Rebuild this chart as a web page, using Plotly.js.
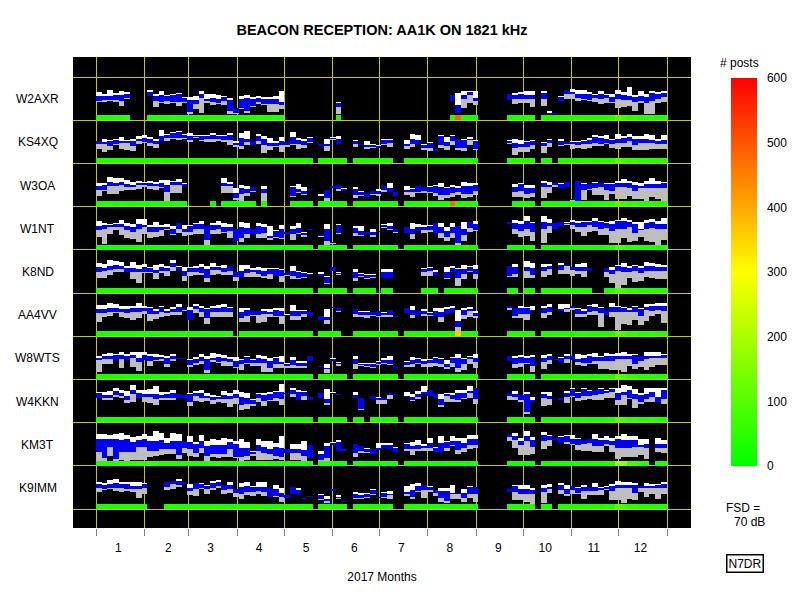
<!DOCTYPE html>
<html><head><meta charset="utf-8">
<script src="https://cdn.plot.ly/plotly-3.0.1.min.js"></script>
<style>html,body{margin:0;padding:0;background:#fff}</style>
</head><body><div id="chart" style="width:800px;height:600px"></div>
<script>
const _ = null;
const stations = ["W2AXR","KS4XQ","W3OA","W1NT","K8ND","AA4VV","W8WTS","W4KKN","KM3T","K9IMM"];
const monthLabels = ["1","2","3","4","5","6","7","8","9","10","11","12"];
const monthStarts = [0,31,59,90,120,151,181,212,243,273,304,334,365];
const monthMids = [14,46,73,104,134,165,195,226,257,287,318,348];
const binDays = 3.65;
// signal per time bin, level above the row floor: bin: [top, blue top, blue bottom, bottom]
const W2AXR = {0:[28,24,19,18],1:[26,24,20,18],2:[30,24,20,19],3:[27,25,20,18],4:[29,25,19,14],5:[28,26,22,21],
9:[30,28,24,24],10:[26,24,19,13],11:[29,25,18,17],12:[25,24,19,16],13:[26,25,18,17],14:[27,26,18,14],15:[23,22,18,17],16:[23,20,8,6],17:[24,20,16,11],18:[29,26,22,7],19:[26,21,19,17],20:[26,22,18,15],21:[25,21,17,16],22:[24,23,19,15],23:[22,20,9,6],24:[12,12,7,6],25:[24,21,12,11],26:[25,22,9,7],27:[23,21,14,13],28:[24,22,18,16],29:[23,21,16,15],30:[23,21,16,8],31:[24,21,16,8],32:[29,18,15,11],
42:[18,17,13,6],62:[25,25,19,19],63:[27,15,7,7],64:[29,25,21,12],65:[29,28,25,17],66:[29,22,19,15],
72:[26,26,20,20],73:[27,25,21,16],74:[28,26,21,17],75:[29,25,21,17],76:[29,25,21,13],78:[29,27,21,14],79:[9,7,6,6],80:[7,7,6,6],81:[24,23,19,19],82:[30,30,26,21],83:[31,28,26,21],84:[30,26,22,19],85:[30,26,21,20],86:[28,26,20,19],87:[26,25,22,18],88:[29,26,21,16],89:[26,25,22,17],90:[26,23,18,17],91:[30,26,21,12],92:[28,25,20,13],93:[33,24,20,14],94:[25,23,18,9],95:[29,24,19,17],96:[26,23,17,6],97:[29,27,19,6],98:[28,26,21,17],99:[29,27,23,18]};
const KS4XQ = {0:[22,22,19,14],1:[24,21,19,11],2:[23,22,17,13],3:[24,23,19,18],4:[26,22,20,14],5:[23,22,20,13],6:[24,22,17,12],7:[27,24,22,19],8:[28,25,21,20],9:[26,24,20,17],10:[24,22,19,15],11:[33,27,22,22],12:[29,28,25,22],13:[31,30,25,24],14:[32,31,25,23],15:[29,28,25,24],16:[30,27,23,21],17:[28,27,26,25],18:[28,27,23,22],19:[28,27,24,21],20:[30,28,24,21],21:[28,27,24,22],22:[28,27,23,21],23:[30,28,23,18],24:[22,20,18,16],25:[30,25,17,14],26:[32,24,21,18],27:[22,22,18,18],28:[29,27,22,19],29:[27,24,18,10],30:[25,20,17,13],31:[22,20,17,16],32:[26,22,18,11],33:[21,21,18,16],34:[31,26,19,18],35:[25,23,19,14],36:[24,22,18,15],37:[26,25,21,20],
39:[19,19,17,17],40:[24,19,17,12],41:[26,25,24,23],42:[27,24,19,19],45:[23,22,19,16],46:[19,19,18,18],47:[22,18,16,14],48:[19,18,16,15],49:[18,17,15,15],50:[24,23,19,18],51:[24,23,20,16],
54:[23,19,17,14],55:[29,24,19,16],56:[28,23,19,19],57:[19,18,15,13],58:[21,20,15,12],59:[14,14,12,12],60:[28,27,18,15],61:[26,21,17,13],62:[28,27,22,18],63:[23,23,15,13],64:[24,23,15,12],65:[26,24,23,18],66:[23,22,14,13],
72:[23,22,20,19],73:[24,20,15,8],74:[23,19,16,11],75:[22,21,16,11],76:[23,22,18,14],78:[21,20,17,10],79:[24,23,20,16],81:[24,22,18,17],82:[21,21,19,18],83:[22,21,19,14],84:[22,21,18,15],85:[23,22,19,14],86:[25,23,19,15],87:[28,26,20,17],88:[27,25,19,17],89:[28,24,20,19],90:[24,23,19,15],91:[29,24,20,14],92:[27,25,20,16],93:[29,26,22,16],94:[27,24,18,13],95:[27,24,20,13],96:[29,24,20,13],97:[28,23,20,14],98:[24,22,19,14],99:[28,23,19,14]};
const W3OA = {0:[24,21,17,11],1:[24,22,17,16],2:[30,25,21,13],3:[29,24,21,13],4:[29,25,22,16],5:[27,23,20,17],6:[25,22,20,17],7:[26,24,22,18],8:[25,24,22,20],9:[26,24,21,18],10:[25,23,21,17],11:[27,24,20,19],12:[27,22,15,5],13:[26,25,22,14],14:[28,25,22,14],15:[24,23,21,21],
22:[29,24,21,14],23:[25,23,21,14],24:[19,14,9,7],25:[22,19,13,5],26:[21,18,14,11],27:[20,20,16,15],29:[21,18,14,6],
34:[21,20,11,10],35:[23,18,15,14],36:[20,16,13,12],37:[18,18,17,17],39:[13,11,11,11],40:[17,17,9,5],41:[21,21,19,19],42:[22,22,18,16],43:[19,18,16,16],45:[20,18,12,9],46:[16,15,12,11],47:[14,14,10,10],48:[16,16,13,12],49:[18,16,13,11],50:[21,21,17,15],51:[24,19,15,15],52:[15,15,11,11],
54:[21,17,15,12],55:[19,18,15,10],56:[21,21,15,14],57:[20,20,16,14],58:[21,20,15,14],59:[22,21,14,11],60:[24,20,12,7],61:[20,19,12,9],62:[22,20,14,10],63:[21,19,15,12],64:[25,21,13,9],65:[24,21,13,10],66:[24,22,16,12],
73:[23,20,15,10],74:[24,23,16,10],75:[22,19,13,9],76:[22,19,14,10],78:[26,24,20,9],79:[25,22,20,14],80:[24,24,22,20],81:[24,23,19,19],82:[25,25,20,20],83:[7,7,7,6],84:[26,26,6,6],85:[24,23,17,7],86:[23,23,18,17],87:[25,24,19,12],88:[24,24,20,12],89:[24,23,17,7],90:[24,23,16,13],91:[26,24,20,8],92:[28,24,20,8],93:[26,24,19,11],94:[25,22,16,8],95:[24,21,19,8],96:[26,23,19,6],97:[29,23,19,10],98:[26,23,19,8],99:[25,24,19,6]};
const W1NT = {0:[29,24,20,13],1:[27,25,21,6],2:[26,25,23,16],3:[27,26,23,20],4:[30,26,23,15],5:[27,24,20,12],6:[26,23,18,11],7:[31,26,21,8],8:[31,25,23,16],9:[25,23,18,12],10:[28,23,18,13],11:[25,23,20,14],12:[26,23,21,20],13:[24,21,16,15],14:[27,27,21,17],15:[25,21,18,14],16:[25,24,18,15],17:[27,26,21,16],18:[29,26,21,16],19:[24,24,10,5],20:[27,25,20,16],21:[29,25,21,16],22:[27,23,18,17],23:[26,23,19,12],24:[21,21,9,9],25:[28,23,12,8],26:[27,22,16,12],27:[21,21,16,16],28:[27,24,16,12],29:[26,23,17,12],30:[24,14,12,10],31:[20,19,13,12],32:[25,21,12,11],33:[18,18,16,16],34:[24,21,16,10],35:[27,22,17,16],36:[18,17,15,13],37:[21,21,20,20],
39:[14,14,14,13],40:[26,21,9,5],41:[8,8,7,6],42:[26,25,17,16],45:[24,22,17,14],46:[24,19,15,14],47:[18,18,16,16],48:[21,18,15,13],49:[19,19,18,18],50:[26,25,23,22],51:[27,24,21,20],52:[21,21,18,17],
54:[23,23,17,17],55:[27,21,16,11],56:[26,23,19,19],57:[25,23,20,17],58:[25,24,20,18],59:[27,27,17,17],60:[27,23,17,12],61:[23,19,13,9],62:[27,23,17,12],63:[24,24,7,5],64:[28,21,15,9],65:[28,28,22,18],66:[29,26,20,19],
72:[28,28,26,26],73:[30,27,21,16],74:[29,26,19,13],75:[34,29,21,14],76:[28,27,18,9],78:[34,28,21,7],79:[31,27,24,17],80:[27,27,21,21],81:[28,28,24,24],82:[28,27,26,25],83:[30,28,25,21],84:[29,27,23,18],85:[29,28,23,14],86:[29,28,25,18],87:[32,29,23,19],88:[29,28,21,15],89:[28,27,22,15],90:[29,26,19,7],91:[30,29,21,7],92:[32,29,21,12],93:[30,28,23,8],94:[28,26,17,9],95:[28,21,20,13],96:[30,27,21,9],97:[31,28,22,8],98:[29,26,21,5],99:[32,26,21,10]};
const K8ND = {0:[30,26,21,15],1:[29,25,22,15],2:[33,27,23,18],3:[32,28,24,21],4:[31,27,24,21],5:[27,25,21,21],6:[31,25,21,14],7:[28,24,21,10],8:[29,26,21,20],9:[26,25,21,20],10:[28,23,20,14],11:[29,26,22,20],12:[27,25,22,17],13:[33,30,26,22],14:[27,26,23,23],15:[26,22,17,12],16:[26,25,21,17],17:[27,25,21,18],18:[29,26,20,18],19:[27,24,15,11],20:[30,26,23,18],21:[27,26,23,19],22:[28,25,21,18],23:[27,27,22,18],24:[21,21,16,12],25:[28,22,16,16],26:[28,24,20,16],27:[25,23,21,16],28:[26,23,19,16],29:[25,22,17,15],30:[25,24,19,14],31:[25,24,17,17],32:[24,23,17,11],33:[20,20,18,17],34:[27,22,17,14],35:[22,21,15,14],36:[21,20,16,15],37:[20,19,18,18],
39:[21,19,17,17],40:[17,16,10,9],41:[26,26,22,22],42:[21,20,19,18],45:[24,21,15,12],46:[20,19,17,16],47:[19,18,15,14],48:[19,18,16,15],50:[24,21,15,15],51:[24,21,15,15],
57:[25,24,21,17],58:[26,25,22,17],59:[23,21,18,18],61:[26,21,15,14],62:[27,25,21,21],63:[25,24,15,7],64:[28,24,19,14],65:[27,26,22,21],66:[28,24,19,14],
72:[27,27,17,16],73:[29,26,19,16],75:[32,26,22,15],76:[30,25,18,15],78:[29,26,22,16],79:[29,27,24,18],81:[30,28,23,19],82:[28,28,27,19],83:[26,26,23,17],84:[29,26,22,19],85:[30,26,22,16],86:[25,25,23,23],89:[25,25,21,16],90:[26,23,19,10],91:[28,27,22,4],92:[30,26,21,8],93:[27,25,21,15],94:[28,27,22,11],95:[27,25,20,12],96:[31,27,22,16],97:[30,27,22,15],98:[29,26,22,14],99:[28,26,22,14]};
const AA4VV = {0:[31,27,23,14],1:[31,27,23,19],2:[33,28,24,20],3:[32,28,24,23],4:[30,27,24,19],5:[30,27,23,18],6:[30,28,24,16],7:[33,28,24,18],8:[30,28,25,22],9:[29,28,22,15],10:[27,25,22,17],11:[30,29,24,19],12:[27,25,23,20],13:[29,27,24,21],14:[32,29,24,21],15:[28,28,26,25],16:[29,26,16,16],17:[32,30,27,23],18:[30,28,24,19],19:[28,27,18,12],20:[30,28,24,19],21:[31,28,24,19],22:[32,29,24,19],23:[29,28,24,19],
25:[28,24,18,14],26:[28,26,20,14],27:[25,25,21,20],28:[25,25,21,13],29:[27,25,22,14],30:[27,24,22,19],31:[28,26,20,19],32:[28,25,20,12],33:[22,21,20,20],34:[31,25,20,16],35:[26,25,20,16],36:[26,25,22,19],37:[24,24,20,20],
39:[20,20,16,16],40:[27,19,16,12],41:[29,29,28,28],42:[28,28,25,24],45:[27,27,22,19],46:[25,24,21,19],47:[25,24,21,18],48:[24,24,21,20],49:[25,25,20,19],50:[24,23,21,19],51:[26,26,21,19],52:[20,20,19,19],
54:[28,28,23,23],55:[30,26,21,18],56:[25,25,21,21],57:[27,25,22,20],58:[24,23,21,20],59:[28,25,20,20],60:[28,24,19,14],61:[29,27,22,22],62:[30,28,24,24],63:[26,15,9,5],64:[28,26,21,17],65:[29,27,25,19],66:[25,23,20,18],
72:[30,30,28,26],73:[28,28,20,18],74:[30,28,22,18],75:[29,28,22,16],76:[30,26,25,25],78:[30,28,23,18],79:[32,29,24,21],81:[32,27,25,25],82:[32,28,27,24],83:[30,30,28,26],84:[28,27,22,19],85:[27,25,22,19],86:[31,30,24,21],87:[32,29,25,21],88:[29,28,23,9],89:[26,26,21,21],90:[33,29,24,19],91:[30,29,24,6],92:[29,28,24,12],93:[28,26,24,11],94:[30,29,24,16],95:[28,27,20,11],96:[32,29,26,15],97:[32,30,25,20],98:[33,30,26,22],99:[33,30,25,13]};
const W8WTS = {0:[23,21,19,7],1:[25,23,20,15],2:[26,23,20,15],3:[25,24,19,19],4:[27,24,20,11],5:[25,23,19,19],6:[27,24,21,12],7:[27,21,17,8],8:[27,24,19,19],9:[25,23,18,13],10:[25,22,19,18],11:[24,22,20,18],12:[23,21,15,12],13:[25,23,20,18],14:[21,21,20,20],15:[21,21,20,20],16:[20,19,14,12],17:[22,20,16,14],18:[25,22,18,15],19:[23,20,9,6],20:[26,21,19,17],21:[25,22,17,16],22:[24,21,18,13],23:[22,20,17,13],24:[22,18,12,11],25:[20,19,15,9],26:[23,22,16,15],27:[20,19,16,13],28:[24,21,16,13],29:[23,20,16,7],30:[21,18,11,7],31:[22,21,15,11],32:[23,17,15,11],33:[16,15,13,11],34:[22,19,14,11],35:[18,16,13,11],36:[18,16,13,11],37:[23,23,18,18],
39:[13,13,12,12],40:[15,11,10,6],41:[21,20,18,18],42:[17,16,15,13],45:[23,20,15,10],46:[16,15,14,13],47:[16,15,13,12],48:[16,15,12,11],49:[18,17,15,14],50:[21,19,16,15],51:[23,19,15,14],52:[13,13,11,11],
54:[18,17,14,12],55:[22,19,15,12],56:[21,20,16,15],57:[20,18,15,12],58:[20,19,16,12],59:[22,21,16,13],60:[21,20,15,12],61:[19,15,12,10],62:[22,21,16,12],63:[25,21,11,7],64:[21,20,15,9],65:[23,22,20,15],66:[25,21,17,11],
72:[23,23,18,18],73:[23,21,15,11],74:[24,22,16,12],75:[23,21,16,15],76:[24,22,13,7],78:[24,21,17,10],79:[25,23,19,15],80:[20,20,19,19],81:[22,21,17,17],82:[25,23,20,16],83:[23,23,19,19],84:[25,20,17,14],85:[24,21,16,13],86:[25,23,16,15],87:[26,22,18,15],88:[23,22,18,10],89:[26,23,18,10],90:[25,23,18,9],91:[26,23,20,9],92:[27,23,20,7],93:[25,23,20,13],94:[25,24,15,10],95:[23,23,18,12],96:[27,23,20,9],97:[27,23,21,12],98:[27,23,21,14],99:[25,24,21,14]};
const W4KKN = {0:[31,30,25,25],1:[31,28,25,23],2:[32,28,25,23],3:[35,32,28,26],4:[33,30,27,25],5:[32,27,23,20],6:[38,33,29,21],7:[33,30,25,25],8:[33,29,26,21],9:[34,29,26,20],10:[37,29,24,18],11:[31,28,25,23],12:[31,29,25,23],13:[33,30,25,23],14:[29,29,25,25],15:[28,28,25,25],16:[30,29,21,17],17:[32,30,27,22],18:[33,30,25,21],19:[30,27,25,22],20:[28,26,23,19],21:[27,26,24,21],22:[32,28,24,20],23:[30,27,24,16],24:[33,29,25,19],25:[31,26,18,13],26:[30,25,19,14],27:[24,23,19,17],28:[30,29,25,21],29:[30,28,22,17],30:[31,29,23,22],31:[32,31,25,22],32:[39,31,24,18],33:[30,30,29,29],34:[35,33,29,26],35:[33,31,23,23],36:[32,31,27,23],37:[26,26,23,23],
39:[30,30,25,25],40:[34,24,20,18],41:[31,30,29,29],42:[29,29,28,28],45:[31,28,25,25],46:[25,25,14,13],48:[27,27,24,24],49:[26,25,23,19],50:[25,25,23,19],51:[30,30,28,24],52:[29,29,28,28],
54:[31,27,26,26],55:[29,26,23,22],56:[32,29,26,24],57:[37,31,29,29],58:[33,33,27,27],59:[29,29,25,25],60:[29,24,18,16],61:[30,29,27,21],62:[30,28,24,21],63:[33,30,23,21],64:[33,30,25,24],65:[37,32,30,25],66:[35,35,24,19],
72:[30,30,27,23],73:[32,29,26,23],74:[28,28,23,21],75:[31,29,11,9],76:[26,23,21,21],78:[31,29,25,17],79:[31,27,24,18],81:[25,25,23,23],82:[32,30,26,20],83:[35,34,27,26],84:[31,30,25,22],85:[35,34,27,23],86:[33,32,27,24],87:[33,33,28,23],88:[35,34,29,23],89:[33,32,30,25],90:[35,34,31,25],91:[35,30,23,18],92:[38,31,28,18],93:[37,33,25,24],94:[34,29,24,15],95:[30,28,21,19],96:[35,29,24,21],97:[35,31,26,21],98:[35,26,21,21],99:[35,33,24,19]};
const KM3T = {0:[32,27,14,5],1:[32,27,8,5],2:[31,27,19,10],3:[32,27,7,4],4:[33,26,14,6],5:[31,27,14,4],6:[29,24,14,6],7:[30,26,19,6],8:[32,27,19,6],9:[30,25,15,9],10:[35,25,15,10],11:[33,26,17,11],12:[28,23,17,12],13:[33,25,17,12],14:[32,25,11,7],15:[25,25,18,13],16:[30,24,17,10],17:[24,22,13,9],18:[31,25,18,13],19:[25,20,10,4],20:[27,21,12,9],21:[26,21,12,8],22:[28,21,12,9],23:[27,24,17,9],24:[25,22,9,8],25:[27,18,9,3],26:[24,18,10,6],27:[15,14,12,10],28:[27,21,15,6],29:[25,19,13,6],30:[25,17,12,6],31:[23,19,10,7],32:[30,18,9,6],33:[17,17,13,13],34:[22,17,13,6],35:[22,17,13,6],36:[25,16,10,5],37:[21,21,8,8],
39:[15,12,6,5],40:[23,20,8,3],41:[24,23,21,21],42:[26,24,15,15],43:[17,17,15,15],45:[22,22,13,9],46:[20,20,15,13],47:[18,17,14,13],48:[17,17,12,12],49:[23,18,16,16],50:[23,21,18,18],51:[23,21,17,17],52:[19,18,14,14],
54:[23,22,17,15],55:[24,20,17,11],56:[26,21,17,15],57:[22,20,18,15],58:[28,23,18,15],59:[19,18,14,14],60:[30,23,14,14],61:[25,24,18,15],62:[30,25,21,20],63:[28,25,16,12],64:[28,23,18,14],65:[31,27,21,17],66:[31,27,21,18],
72:[32,32,29,25],73:[33,30,26,18],74:[28,25,21,11],75:[35,30,25,11],76:[29,26,19,12],78:[34,31,25,17],79:[31,30,26,20],80:[28,28,26,26],81:[30,29,23,23],82:[31,30,24,22],83:[31,27,22,21],84:[28,27,21,16],85:[26,26,22,15],86:[27,27,23,15],87:[32,27,20,14],88:[28,26,20,14],89:[30,26,22,20],90:[28,25,21,14],91:[30,27,18,7],92:[32,26,18,9],93:[30,26,18,9],94:[30,26,19,9],95:[27,21,19,11],96:[27,22,18,7],98:[28,22,18,14],99:[26,22,18,13]};
const K9IMM = {0:[27,25,21,17],1:[26,24,20,19],2:[29,25,21,20],3:[30,26,21,18],4:[27,25,21,17],5:[27,25,20,18],6:[27,23,20,17],7:[27,23,20,11],8:[26,25,21,15],
12:[27,27,22,19],13:[28,28,25,20],14:[30,28,24,22],15:[27,27,25,25],16:[25,21,18,14],17:[26,26,20,13],18:[26,25,21,20],19:[24,23,20,15],20:[28,26,21,19],21:[29,27,23,21],22:[24,24,19,15],23:[27,24,20,16],24:[20,20,16,12],25:[26,22,15,10],26:[27,23,17,14],27:[23,22,17,13],28:[27,22,18,15],29:[27,22,17,13],30:[21,21,12,12],31:[24,20,13,12],32:[21,16,12,7],33:[14,14,11,11],34:[22,22,15,15],35:[21,19,15,15],36:[11,11,10,10],37:[13,13,12,12],
39:[15,14,10,9],40:[13,10,8,6],41:[20,20,18,18],42:[14,12,11,10],43:[8,8,7,7],45:[17,15,11,10],46:[16,14,11,10],47:[16,15,12,11],48:[20,19,15,14],49:[12,12,11,11],50:[17,16,12,11],51:[18,15,14,10],
54:[23,17,15,13],55:[25,19,12,10],56:[26,23,18,17],57:[24,24,19,11],58:[23,22,19,17],59:[19,19,16,13],60:[21,18,11,7],61:[21,18,8,6],62:[24,16,15,10],63:[16,16,15,10],64:[20,16,11,7],65:[23,22,15,11],66:[22,22,15,7],
72:[20,20,17,17],73:[24,23,17,9],74:[24,20,15,9],75:[24,20,15,7],76:[21,19,15,5],78:[24,21,17,6],79:[25,22,20,16],81:[26,24,19,15],82:[24,20,15,13],83:[23,23,19,15],84:[22,21,16,15],85:[24,22,18,10],86:[22,22,18,14],87:[26,22,18,14],88:[22,21,19,14],89:[23,22,20,19],90:[25,23,18,9],91:[28,24,21,9],92:[27,24,21,6],93:[27,24,21,10],94:[26,24,16,9],95:[23,23,21,17],96:[26,23,21,12],97:[25,23,21,15],98:[25,24,21,10],99:[27,25,21,15]};
// number of posts in each bin
const W2AXR_posts = [34,38,31,41,36,45,_,_,_,28, 33,30,27,35,31,28,26,30,34,29, 32,27,30,36,28,33,29,31,35,30, 28,32,34,_,_,_,_,_,_,_, _,_,22,_,_,_,_,_,_,_, _,_,_,_,_,_,_,_,_,_, _,_,30,490,25,22,28,_,_,_, _,_,26,31,28,33,36,_,29,24, 32,28,31,36,33,27,30,34,29,32, 38,104,72,45,58,36,40,48,33,37];
const KS4XQ_posts = [29,33,30,36,28,31,27,34,30,26, 32,35,29,31,28,33,30,27,34,31, 29,33,28,30,35,31,27,32,30,34, 28,33,31,29,32,27,30,28,_,24, 30,26,33,28,_,31,29,34,27,32, 28,30,_,_,32,29,34,31,27,33, 30,28,35,31,29,33,30,_,_,_, _,_,31,27,33,29,35,_,28,32, _,30,34,28,31,36,33,29,32,35, 38,102,68,44,52,35,41,46,36,33];
const W3OA_posts = [30,27,33,29,35,31,28,34,30,32, 27,33,29,31,28,30,_,_,_,_, 22,_,31,27,33,29,35,28,_,24, _,_,_,_,30,33,27,31,_,28, 32,30,26,33,_,29,31,27,34,30, 28,32,29,_,30,34,28,32,29,33, 31,27,480,30,34,28,32,_,_,_, _,_,_,31,27,33,29,_,30,34, 28,32,29,35,31,33,28,32,30,36, 34,108,72,46,55,38,42,47,34,36];
const W1NT_posts = [31,28,34,30,27,33,29,35,31,28, 32,30,34,27,31,29,33,28,32,30, 34,27,31,29,33,30,28,32,35,29, 31,27,33,30,28,34,32,29,_,27, 33,30,28,34,_,31,29,33,27,32, 30,28,34,_,29,33,31,27,32,30, 34,28,31,29,33,30,27,_,_,_, _,_,30,34,28,32,29,_,31,27, 33,30,28,34,31,36,29,33,30,35, 37,105,70,47,54,36,41,45,33,35];
const K8ND_posts = [33,29,31,35,28,32,30,27,34,31, 29,33,28,30,35,31,27,32,30,34, 28,33,31,29,32,27,30,28,33,31, 34,29,32,28,31,35,30,27,_,31, 28,33,29,32,_,30,34,27,31,_, 29,33,_,_,_,_,_,30,28,34, _,31,27,33,29,32,30,_,_,_, _,_,28,33,_,30,34,_,29,32, 30,28,34,31,27,33,36,_,_,31, 35,98,69,43,52,37,40,46,34,32];
const AA4VV_posts = [28,32,30,34,27,31,29,33,28,32, 30,34,27,31,29,33,30,28,32,35, 29,31,27,33,_,30,28,34,32,29, 31,27,33,30,28,34,32,29,_,33, 27,31,29,_,_,30,34,28,32,29, 33,31,27,_,30,28,34,31,29,33, 27,32,30,360,28,34,31,_,_,_, _,_,29,33,27,31,30,_,34,28, 32,29,33,31,27,35,30,34,28,33, 36,106,70,44,55,35,39,47,32,34];
const W8WTS_posts = [32,30,27,33,29,35,31,28,34,30, 27,32,29,31,33,28,30,34,27,31, 29,33,30,28,32,35,29,31,27,33, 30,28,34,32,29,31,27,33,_,28, 30,34,27,31,_,29,33,30,28,32, 34,27,31,_,29,33,30,28,32,34, 27,31,29,33,30,28,32,_,_,_, _,_,34,27,31,29,33,_,30,28, 32,34,31,29,33,37,30,28,34,36, 39,110,74,45,56,38,41,48,35,33];
const W4KKN_posts = [30,34,28,32,29,33,31,27,35,30, 28,32,34,29,31,27,33,30,28,34, 32,29,31,27,33,30,28,34,32,29, 31,27,33,30,28,34,29,32,_,30, 27,33,29,31,_,28,32,_,34,30, 27,31,29,_,33,30,28,34,32,29, 31,27,33,30,28,34,31,_,_,_, _,_,29,33,27,31,30,_,34,28, 32,29,33,31,27,36,30,34,28,35, 37,112,73,46,53,37,40,44,33,35];
const KM3T_posts = [38,42,35,46,50,44,58,62,49,72, 54,43,39,47,41,36,52,45,38,43, 49,56,40,37,44,51,42,39,46,53, 41,38,47,43,36,44,40,35,_,39, 45,37,42,33,_,31,36,29,33,30, 35,28,32,_,30,34,28,32,29,33, 31,36,30,28,34,31,36,_,_,_, _,_,30,34,28,32,29,_,33,30, 36,28,32,35,31,38,33,36,30,37, 41,195,180,62,70,45,52,_,42,38];
const K9IMM_posts = [31,35,28,33,29,32,36,30,34,_, _,_,30,34,28,32,29,33,31,27, 35,30,28,32,34,29,31,27,33,30, 28,34,32,29,31,27,33,30,_,28, 32,34,27,31,_,29,33,30,28,32, 34,27,_,_,31,29,33,30,28,32, 34,27,31,29,33,30,28,_,_,_, _,_,32,34,27,31,29,_,33,30, _,28,32,34,31,36,29,33,30,35, 38,110,72,44,52,36,40,46,34,33];

const series = [W2AXR,KS4XQ,W3OA,W1NT,K8ND,AA4VV,W8WTS,W4KKN,KM3T,K9IMM];
const posts = [W2AXR_posts,KS4XQ_posts,W3OA_posts,W1NT_posts,K8ND_posts,AA4VV_posts,W8WTS_posts,W4KKN_posts,KM3T_posts,K9IMM_posts];

const rowH = 43.2, rowBase = 19, plotH = 471;
const rowFloor = i => (stations.length-1-i)*rowH + rowBase;
const band = c => ({type:'bar',x:[],y:[],base:[],width:binDays,hoverinfo:'skip',showlegend:false,
  marker:{color:c,line:{width:0}}});
const gray = band('#bebebe'), blue = band('#0000ff'), white = band('#ffffff');
const strip = band('#00ff00');
strip.marker = {color:[],coloraxis:'coloraxis',line:{width:0}};
const bins = [...Array(100).keys()];
series.forEach((s,r)=>{
  const f = rowFloor(r);
  bins.forEach(b=>{
    const x = (b+0.5)*binDays - 0.35;
    const v = s[b];
    if(v){
      const [hi,q3,q1,lo] = v;
      gray.x.push(x); gray.base.push(f+lo); gray.y.push(q1-lo);
      blue.x.push(x); blue.base.push(f+q1); blue.y.push(Math.max(q3-q1,1));
      white.x.push(x); white.base.push(f+q3); white.y.push(hi-q3);
    }
    if(posts[r][b]!==null){
      strip.x.push(x); strip.base.push(f+0.3); strip.y.push(4.9); strip.marker.color.push(posts[r][b]);
    }
  });
});
const gridFloors = stations.map((_s,i)=>rowFloor(i)).concat([rowFloor(0)+rowH]);
const txt = {family:'"Liberation Sans",Arial,sans-serif',size:12,color:'#000'};
const ann = stations.map((s,i)=>({text:s,xref:'paper',yref:'y',x:(37.5-73)/618,y:rowFloor(i)+21,xanchor:'center',yanchor:'middle',showarrow:false,font:txt}));
const cap = (t,px,py)=>({text:t,xref:'paper',yref:'paper',x:(px-73)/618,y:(528-py)/471,xanchor:'center',yanchor:'middle',showarrow:false,font:txt});
ann.push(cap('# posts',740,63), cap('FSD =',743,508), cap('70 dB',749,522));
ann.push(Object.assign(cap('N7DR',745,563.5),{bordercolor:'#000',borderwidth:1.5,borderpad:1,bgcolor:'#fff'}));

const layout = {
  width:800,height:600,autosize:false,
  margin:{l:73,r:109,t:57,b:72,pad:0},
  paper_bgcolor:'#fff',plot_bgcolor:'#000',
  barmode:'overlay',bargap:0,showlegend:false,
  title:{text:'BEACON RECEPTION: AA1K ON 1821 kHz',x:382/800,xanchor:'center',y:1-30/600,yanchor:'middle',
    font:{family:'"Liberation Sans",Arial,sans-serif',size:14.5,color:'#000',weight:700}},
  xaxis:{range:[-15.03,380.3],tickmode:'array',tickvals:monthMids,ticktext:monthLabels,ticks:'outside',ticklen:9,tickcolor:'rgba(0,0,0,0)',
    tickfont:txt,showgrid:false,zeroline:false,showline:false,
    minor:{tickmode:'array',tickvals:monthStarts,ticks:'outside',ticklen:7,tickcolor:'#808080',tickwidth:1,showgrid:true,gridcolor:'#c8c800',gridwidth:1},
    title:{text:'2017 Months',font:txt,standoff:18}},
  yaxis:{range:[0,plotH],tickmode:'array',tickvals:[],showticklabels:false,showgrid:false,zeroline:false,showline:false,
    minor:{tickmode:'array',tickvals:gridFloors,ticks:'',showgrid:true,gridcolor:'#c8c800',gridwidth:1}},
  coloraxis:{cmin:0,cmax:600,colorscale:[[0,'#00ff00'],[0.5,'#ffff00'],[1,'#ff0000']],
    colorbar:{thickness:26,thicknessmode:'pixels',len:388,lenmode:'pixels',xref:'container',yref:'container',x:731/800,xanchor:'left',y:1-99.5/600,yanchor:'top',xpad:0,ypad:0,
      outlinewidth:0,tickmode:'array',tickvals:[0,100,200,300,400,500,600],ticks:'outside',ticklen:8,tickcolor:'rgba(0,0,0,0)',tickfont:txt}},
  annotations:ann
};
Plotly.newPlot('chart',[gray,blue,white,strip],layout,{displayModeBar:false,staticPlot:true});
</script></body></html>
